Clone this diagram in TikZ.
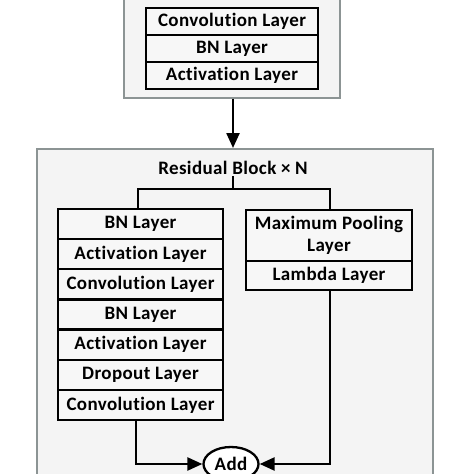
\documentclass[tikz,border=0pt]{standalone}
\usepackage{fontspec}
\setmainfont[Ligatures=NoCommon,LetterSpace=2]{Carlito}
\usetikzlibrary{arrows.meta,shapes.geometric}
\definecolor{boxgray}{HTML}{8C9494}
\definecolor{panel}{HTML}{F4F4F4}
\definecolor{cell}{HTML}{F7F7F7}
\tikzset{
  txt/.style={font=\fontsize{19}{22}\selectfont\bfseries},
  outer/.style={draw=boxgray, line width=2pt, fill=panel, inner sep=0pt},
  cellbox/.style={draw=black, line width=2.3pt, fill=cell, inner sep=0pt, align=center, txt},
  conn/.style={line width=2.4pt, draw=black},
  arr/.style={conn, -{Triangle[length=15pt,width=13pt]}},
}
\begin{document}
\begin{tikzpicture}[x=1pt,y=-1pt]
\useasboundingbox (0,0) rectangle (474,474);
\fill[white] (0,0) rectangle (474,474);
% top container
\node[outer, minimum width=216pt, minimum height=107.5pt] (topbox) at (232,43.75) {};
\node[cellbox, minimum width=172pt, minimum height=27pt] (t1) at (232,21.5) {Convolution Layer};
\node[cellbox, minimum width=172pt, minimum height=27pt] (t2) at (232,48.5) {BN Layer};
\node[cellbox, minimum width=172pt, minimum height=27pt] (t3) at (232,75.5) {Activation Layer};
% big container
\node[outer, minimum width=396pt, minimum height=341pt] (bigbox) at (235,319.5) {};
\draw[arr] (topbox.south -| 233,0) -- (bigbox.north -| 233,0);
\node[txt, inner sep=1pt] (title) at (233,168) {Residual Block × N};
% left stack
\foreach \i/\t in {1/BN Layer,2/Activation Layer,3/Convolution Layer,4/BN Layer,5/Activation Layer,6/Dropout Layer,7/Convolution Layer}{
  \node[cellbox, minimum width=165pt, minimum height=30.14pt] (l\i) at (140.5,{209+30.14*(\i-0.5)}) {\t};
}
% right stack
\node[cellbox, minimum width=166pt, minimum height=51pt] (r1) at (329,235.5) {Maximum Pooling\\Layer};
\node[cellbox, minimum width=166pt, minimum height=29pt] (r2) at (329,275.5) {Lambda Layer};
% add
\node[draw=black, line width=2.3pt, fill=white, ellipse, minimum width=55pt, minimum height=34pt, inner sep=0pt, txt] (add) at (231,464) {Add};
% connectors
\coordinate (split) at (233,189);
\draw[conn] (title.south) -- (split);
\draw[conn] ([xshift=-2.5pt]l1.north) |- (split) -| ([xshift=1pt]r1.north);
\draw[arr] ([xshift=-4.5pt]l7.south) |- (add.west);
\draw[arr] ([xshift=1pt]r2.south) |- (add.east);
\end{tikzpicture}
\end{document}
